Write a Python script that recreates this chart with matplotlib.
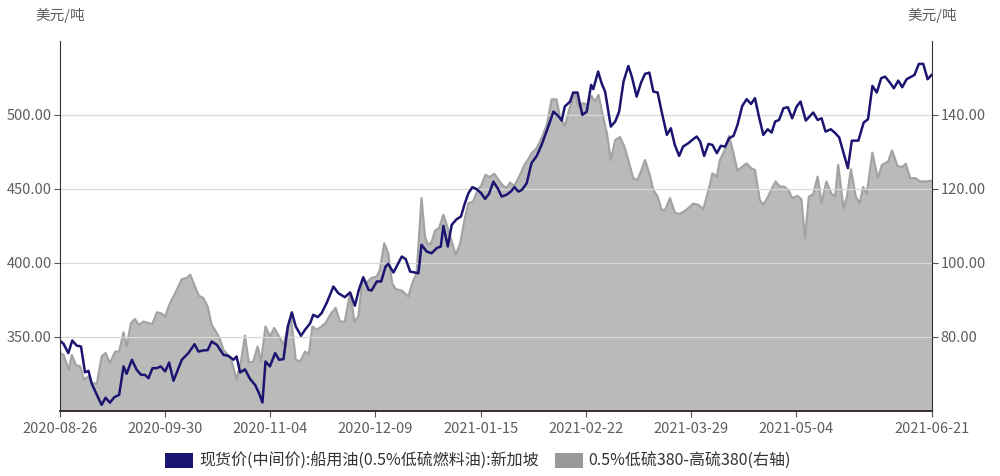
import matplotlib
matplotlib.use("Agg")
import matplotlib.pyplot as plt
from matplotlib.patches import Patch

plt.rcParams['font.family'] = ['Noto Sans CJK SC', 'DejaVu Sans']

# trading-day position (0 = 2020-08-26) and values
blue_t = [0.0, 0.8, 1.9, 2.8, 3.8, 4.8, 5.7, 6.5, 7.2, 8.4, 9.5, 10.4, 11.4, 12.4, 13.5,
          14.5, 15.2, 16.4, 17.5, 18.5, 19.4, 20.2, 21.1, 22.1, 23.0, 24.0, 24.9, 25.9,
          27.8, 29.3, 30.7, 31.6, 32.7, 33.7, 34.6, 35.8, 37.3, 38.4, 39.6, 40.3, 41.1,
          42.2, 43.4, 44.5, 45.4, 46.2, 46.9, 47.9, 49.1, 50.0, 51.0, 52.0, 52.9, 53.8,
          55.0, 55.9, 57.1, 57.8, 58.8, 59.7, 60.9, 62.4, 63.5, 65.0, 66.2, 67.3, 68.2,
          69.2, 70.4, 71.1, 72.3, 73.3, 74.3, 74.9, 76.1, 78.0, 78.9, 79.9, 81.8, 82.5,
          83.7, 84.8, 86.0, 86.9, 87.5, 88.5, 89.4, 90.5, 91.5, 92.4, 93.2, 94.1, 95.1,
          96.1, 97.0, 97.9, 98.9, 99.9, 100.8, 101.9, 102.9, 103.7, 104.6, 105.4, 106.5,
          107.6, 108.8, 109.9, 111.3, 112.6, 113.7, 114.5, 115.2, 116.4, 117.1, 118.1,
          119.2, 120.2, 121.2, 121.7, 122.8, 123.6, 124.4, 125.7, 126.7, 127.6, 128.6,
          129.7, 130.5, 131.6, 132.6, 133.5, 134.5, 135.4, 136.4, 137.3, 138.5, 139.4,
          140.3, 141.3, 142.2, 143.4, 144.3, 145.3, 146.1, 147.0, 148.0, 148.9, 149.9,
          150.8, 151.8, 152.7, 153.7, 154.6, 155.7, 156.7, 157.7, 158.6, 159.5, 160.5,
          161.5, 162.4, 163.2, 164.1, 165.1, 166.1, 167.1, 168.1, 169.0, 170.2, 171.9,
          172.9, 173.8, 174.7, 175.9, 176.8, 177.8, 178.8, 179.8, 180.7, 182.2, 183.4,
          184.4, 185.4, 186.4, 187.4, 188.3, 189.4, 190.3, 191.3, 192.2, 193.2, 195.0,
          196.0, 197.0, 198.0, 198.9]
blue_price = [347.3, 345.3, 339.0, 347.5, 344.1, 343.4, 326.0, 327.0, 318.7, 310.8, 304.0,
              308.8, 305.5, 309.2, 310.8, 330.0, 325.0, 334.5, 327.7, 324.3, 324.3, 322.0,
              328.8, 328.8, 330.0, 326.6, 332.6, 320.3, 334.5, 339.0, 345.0, 340.0, 340.8,
              341.0, 346.8, 344.6, 337.8, 337.2, 334.5, 336.7, 325.9, 328.0, 321.4, 317.6,
              312.0, 305.6, 333.3, 330.0, 339.0, 334.5, 334.9, 357.0, 366.5, 357.0, 350.7,
              354.7, 359.2, 364.9, 363.3, 366.0, 373.2, 384.0, 379.5, 376.8, 380.0, 371.0,
              381.8, 390.3, 381.8, 381.3, 387.4, 387.4, 397.5, 399.3, 393.5, 404.3, 402.5,
              394.1, 393.0, 412.2, 407.6, 406.5, 410.0, 411.0, 425.0, 411.0, 425.7, 429.5,
              431.3, 440.3, 447.0, 451.2, 449.8, 447.1, 443.2, 446.6, 454.9, 450.3, 444.8,
              446.0, 448.2, 451.2, 448.2, 449.3, 453.8, 467.4, 472.3, 479.7, 491.0, 502.2,
              499.3, 496.2, 505.7, 509.0, 515.1, 515.1, 500.0, 502.2, 520.3, 517.4, 529.3,
              521.4, 515.8, 492.1, 495.5, 502.2, 522.5, 533.1, 525.9, 512.4, 521.8, 527.7,
              528.6, 515.8, 515.1, 502.2, 486.5, 491.0, 479.7, 472.3, 478.6, 480.9, 483.1,
              485.4, 482.0, 472.3, 480.4, 479.7, 474.1, 479.1, 478.6, 484.3, 485.8, 493.2,
              506.1, 510.6, 507.4, 511.3, 498.9, 486.5, 490.3, 488.1, 495.5, 496.6, 504.5,
              505.2, 497.7, 505.6, 509.0, 496.2, 501.6, 496.6, 497.7, 488.7, 490.3, 488.0,
              484.9, 474.5, 464.0, 482.6, 482.6, 494.8, 497.1, 519.6, 515.1, 524.8, 525.9,
              521.8, 518.0, 523.2, 518.7, 524.1, 527.0, 534.5, 534.5, 524.1, 527.0]

gray_t = [0.0, 0.8, 2.0, 2.7, 3.6, 4.6, 5.5, 6.5, 7.4, 8.4, 9.5, 10.4, 11.4, 12.6, 13.5,
          14.5, 15.2, 16.2, 17.1, 18.0, 19.0, 20.2, 21.1, 22.1, 23.0, 24.0, 25.1, 26.2,
          27.8, 28.9, 29.7, 30.8, 31.7, 32.7, 33.7, 34.6, 35.8, 36.5, 37.3, 38.3, 39.2,
          40.3, 41.3, 42.2, 43.1, 44.1, 45.1, 45.9, 46.9, 47.9, 48.9, 50.0, 51.0, 52.0,
          52.7, 53.8, 54.8, 55.9, 56.8, 57.6, 58.6, 59.7, 60.6, 61.8, 62.9, 63.9, 65.0,
          66.2, 67.2, 68.1, 69.0, 70.0, 71.1, 72.3, 73.0, 74.0, 74.9, 75.8, 76.6, 78.0,
          79.5, 80.4, 81.4, 82.5, 83.3, 83.9, 84.7, 85.6, 86.5, 87.5, 88.5, 89.4, 90.3,
          91.3, 92.4, 93.2, 94.3, 95.3, 96.1, 97.1, 98.1, 99.1, 100.0, 100.9, 101.9, 102.7,
          103.7, 105.0, 106.0, 107.0, 107.6, 108.8, 109.9, 111.1, 112.2, 113.3, 114.1,
          115.2, 116.4, 117.5, 118.4, 119.4, 120.4, 121.3, 122.1, 122.9, 124.0, 124.8,
          125.7, 126.7, 127.8, 128.8, 129.7, 130.8, 131.8, 132.7, 133.5, 134.5, 135.4,
          136.4, 137.3, 138.1, 139.2, 140.3, 141.3, 142.5, 143.4, 144.5, 145.7, 146.8,
          148.0, 148.9, 149.9, 150.6, 151.8, 152.7, 153.7, 154.6, 155.7, 156.7, 157.7,
          158.6, 159.7, 160.5, 161.6, 162.5, 163.3, 164.3, 165.3, 166.2, 167.1, 168.3,
          169.2, 170.0, 170.9, 171.9, 172.9, 173.8, 174.9, 176.0, 176.9, 177.6, 178.8,
          179.6, 180.5, 181.6, 182.5, 183.3, 184.1, 185.4, 186.6, 187.6, 189.0, 189.9,
          191.1, 192.2, 193.0, 194.0, 195.2, 196.3, 197.5, 198.9]
gray_spread = [75.6, 75.1, 71.1, 75.1, 72.4, 72.0, 68.4, 69.3, 67.5, 67.3, 74.7, 75.6, 72.9,
               76.0, 76.0, 81.2, 77.4, 83.7, 84.8, 83.2, 84.1, 83.7, 83.5, 86.6, 86.4, 85.5,
               89.1, 91.6, 95.6, 95.9, 96.8, 93.6, 91.1, 90.5, 88.2, 83.2, 81.0, 79.4, 76.5,
               75.1, 73.3, 68.4, 73.3, 80.3, 73.0, 73.3, 77.4, 73.3, 82.8, 80.1, 82.4, 80.1,
               77.8, 82.8, 85.5, 73.8, 73.3, 76.0, 75.4, 82.8, 81.9, 82.8, 83.7, 86.2, 87.8,
               84.1, 84.1, 91.8, 84.1, 85.5, 95.4, 94.7, 95.9, 96.3, 98.1, 105.3, 102.6,
               94.5, 92.9, 92.5, 90.9, 94.5, 97.2, 117.5, 107.1, 105.1, 105.3, 108.7, 109.4,
               113.0, 109.4, 105.8, 102.2, 105.1, 112.1, 116.1, 116.6, 119.7, 120.8, 123.8,
               123.2, 124.1, 122.6, 121.1, 120.2, 121.7, 120.8, 123.8, 126.5, 128.3, 129.6,
               131.0, 133.7, 137.3, 144.2, 144.2, 139.5, 137.0, 142.2, 145.9, 142.2, 143.2,
               142.7, 145.1, 143.6, 145.4, 139.1, 135.1, 127.8, 133.2, 134.0, 131.4, 127.8,
               122.9, 122.4, 125.1, 127.8, 124.2, 119.7, 117.9, 114.3, 114.3, 117.5, 113.6,
               113.2, 113.9, 114.8, 116.0, 115.7, 114.5, 119.7, 124.2, 123.3, 127.8, 130.7,
               134.3, 129.6, 124.9, 126.0, 126.9, 125.6, 125.1, 117.0, 115.7, 117.9, 120.2,
               122.0, 120.6, 120.6, 119.7, 117.5, 118.1, 117.2, 106.7, 117.9, 118.6, 123.3,
               116.1, 122.0, 118.8, 117.9, 126.5, 114.8, 117.9, 125.3, 117.9, 116.1, 120.5,
               118.6, 129.8, 122.9, 126.5, 127.4, 130.4, 126.2, 125.9, 126.8, 122.9, 122.9,
               122.0, 122.0, 122.2]

tick_pos = [0, 24, 48, 72, 96, 120, 144, 168, 199]
tick_labels = ['2020-08-26', '2020-09-30', '2020-11-04', '2020-12-09', '2021-01-15',
               '2021-02-22', '2021-03-29', '2021-05-04', '2021-06-21']
left_ticks = [350, 400, 450, 500]
right_ticks = [80, 100, 120, 140]

blue_label = '现货价(中间价):船用油(0.5%低硫燃料油):新加坡'
gray_label = '0.5%低硫380-高硫380(右轴)'
navy = '#1b1470'
txt = '#5e5e5e'

fig = plt.figure(figsize=(10, 4.76), dpi=100)
ax = fig.add_axes([0.06, 0.137, 0.872, 0.777])
ax2 = ax.twinx()

# spread as grey area on the right axis
ax2.fill_between(gray_t, 60, gray_spread, color='#bababa', lw=0)
ax2.plot(gray_t, gray_spread, color='#a3a3a3', lw=1.6)
ax2.set_ylim(60, 160)
ax2.set_yticks(right_ticks)
ax2.set_yticklabels([f'{v:.2f}' for v in right_ticks])

# price line on the left axis, drawn above the area
ax.set_zorder(ax2.get_zorder() + 1)
ax.patch.set_visible(False)
ax.plot(blue_t, blue_price, color=navy, lw=1.8)
ax.set_ylim(300, 550)
ax.set_xlim(0, 199)
ax.set_yticks(left_ticks)
ax.set_yticklabels([f'{v:.2f}' for v in left_ticks])
ax.set_xticks(tick_pos)
ax.set_xticklabels(tick_labels)
ax.grid(axis='y', color='#d9d9d9', lw=0.9)

for a in (ax, ax2):
    a.spines['top'].set_visible(False)
    a.tick_params(colors='#555555', labelcolor=txt, labelsize=10.5, length=4, width=0.8)
ax.spines['left'].set_color('#333333')
ax.spines['right'].set_visible(False)
ax.spines['bottom'].set_color('#3a2e2e')
ax.spines['bottom'].set_linewidth(1.4)
ax2.spines['left'].set_visible(False)
ax2.spines['bottom'].set_visible(False)
ax2.spines['right'].set_color('#333333')
ax.tick_params(axis='x', pad=4)
ax.tick_params(axis='y', pad=2)
ax2.tick_params(axis='y', pad=2)

fig.text(0.06, 0.968, '美元/吨', ha='center', va='center', fontsize=10.5, color=txt)
fig.text(0.932, 0.968, '美元/吨', ha='center', va='center', fontsize=10.5, color=txt)

handles = [Patch(facecolor=navy, label=blue_label),
           Patch(facecolor='#999999', label=gray_label)]
fig.legend(handles=handles, loc='center', bbox_to_anchor=(0.478, 0.031), ncol=2,
           frameon=False, fontsize=11.5, handlelength=1.75, handleheight=1.1,
           handletextpad=0.35, columnspacing=1.0, labelcolor='#333333')

fig.savefig('out.png', dpi=100)
